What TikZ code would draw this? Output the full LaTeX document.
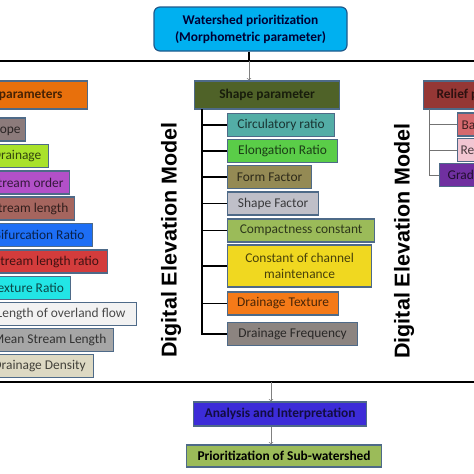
\documentclass[tikz,border=0pt]{standalone}
\usepackage{fontspec}
\setmainfont{Carlito}
\newfontfamily\demfont{Liberation Sans}
\usetikzlibrary{arrows,calc,positioning}

\definecolor{boxline}{HTML}{4E6A88}
\definecolor{wsfill}{HTML}{00B0F0}
\definecolor{wsline}{HTML}{1F5A8C}
\definecolor{shapec}{HTML}{4F6228}
\definecolor{linc}{HTML}{E8700C}
\definecolor{relc}{HTML}{953735}
% linear column
\definecolor{slopec}{HTML}{8C7B7B}
\definecolor{drainc}{HTML}{A9E22B}
\definecolor{sorderc}{HTML}{B250C8}
\definecolor{slenc}{HTML}{A5655E}
\definecolor{bifc}{HTML}{1D6EF5}
\definecolor{slratc}{HTML}{D33C3C}
\definecolor{texratc}{HTML}{22E5E5}
\definecolor{lofc}{HTML}{F2F2F2}
\definecolor{mslc}{HTML}{A6A6A6}
\definecolor{ddc}{HTML}{DDD9C3}
% shape column
\definecolor{circc}{HTML}{53ADA6}
\definecolor{elongc}{HTML}{5ACD48}
\definecolor{formc}{HTML}{948A54}
\definecolor{sfacc}{HTML}{BFBFC8}
\definecolor{compc}{HTML}{9BBB59}
\definecolor{chanc}{HTML}{F0D820}
\definecolor{dtexc}{HTML}{F57A18}
\definecolor{dfreqc}{HTML}{8C8480}
% relief column
\definecolor{basinc}{HTML}{D5696E}
\definecolor{rratc}{HTML}{F2C6D2}
\definecolor{gradc}{HTML}{7030A0}
% bottom
\definecolor{anac}{HTML}{3C2CD8}
\definecolor{prioc}{HTML}{9BBB59}

\begin{document}
\begin{tikzpicture}[x=1pt,y=-1pt,>=to,
  box/.style={draw=boxline,line width=1.2pt,fill=#1,text=#1!30!black,
    minimum height=23pt,inner sep=2pt,anchor=west,
    font=\fontsize{13.4}{16}\selectfont},
  head/.style={box=#1,font=\fontsize{13.4}{16}\selectfont\bfseries},
  frame/.style={line width=2pt,black},
  conn/.style={line width=1.5pt,black},
  rconn/.style={line width=1pt,black!55},
  arr/.style={->,line width=0.7pt,black!50},
  dem/.style={rotate=90,inner sep=0pt,
    font=\demfont\bfseries\fontsize{21.5}{24}\selectfont}]

  \useasboundingbox (0,0) rectangle (474,474);
  \fill[white] (0,0) rectangle (474,474);
  \clip (0,0) rectangle (474,474);

  % top
  \node[draw=wsline,line width=1.2pt,fill=wsfill,rounded corners=6pt,
        minimum width=193pt,minimum height=44pt,align=center,text=black!80!blue,
        font=\fontsize{13.4}{17}\selectfont\bfseries] (ws) at (250.5,29)
        {Watershed prioritization\\(Morphometric parameter)};
  \coordinate (tl) at (0,61);
  \coordinate (tr) at (474,61);
  \coordinate (bl) at (0,382);
  \coordinate (br) at (474,382);
  \draw[frame] (tl) -- (tr);
  \draw[frame] (bl) -- (br);

  % linear parameters
  \node[head=linc,minimum width=151pt,minimum height=28pt] (lin) at (-64,95) {Linear parameters};
  \node[box=slopec,minimum width=40pt]   (slope)  at (-15,129.5) {Slope};
  \node[box=drainc,minimum width=63pt]   (drain)  at (-15,156)   {Drainage};
  \node[box=sorderc,minimum width=84pt]  (sorder) at (-15,182.5) {Stream order};
  \node[box=slenc,minimum width=89pt]    (slen)   at (-15,208.5) {Stream length};
  \node[box=bifc,minimum width=107pt]    (bif)    at (-15,235)   {Bifurcation Ratio};
  \node[box=slratc,minimum width=122pt]  (slrat)  at (-15,261.5) {Stream length ratio};
  \node[box=texratc,minimum width=85pt]  (texrat) at (-15,288)   {Texture Ratio};
  \node[box=lofc,minimum width=151pt]    (lof)    at (-15,314)   {Length of overland flow};
  \node[box=mslc,minimum width=128pt]    (msl)    at (-15,340)   {Mean Stream Length};
  \node[box=ddc,minimum width=108pt]     (dd)     at (-15,366)   {Drainage Density};

  % shape parameters
  \node[head=shapec,minimum width=145pt,minimum height=28pt] (shape) at (194,95) {Shape parameter};
  \node[box=circc,minimum width=107pt]  (circ)  at (227,125)   {Circulatory ratio};
  \node[box=elongc,minimum width=110pt] (elong) at (227,151)   {Elongation Ratio};
  \node[box=formc,minimum width=84pt]   (form)  at (227,177)   {Form Factor};
  \node[box=sfacc,minimum width=91pt]   (sfac)  at (227,203.5) {Shape Factor};
  \node[box=compc,minimum width=147pt]  (comp)  at (227,230.5) {Compactness constant};
  \node[box=chanc,minimum width=144pt,minimum height=42pt,align=center]
        (chan) at (227,266) {Constant of channel\\maintenance};
  \node[box=dtexc,minimum width=111pt]  (dtex)  at (227,303.5) {Drainage Texture};
  \node[box=dfreqc,minimum width=130pt] (dfreq) at (227,334)   {Drainage Frequency};

  % relief parameters
  \node[head=relc,minimum height=28pt,inner xsep=13pt] (rel) at (423,95) {Relief parameters};
  \node[box=basinc,inner xsep=4pt]  (basin) at (457,124.5) {Basin relief};
  \node[box=rratc,inner xsep=3pt]   (rrat)  at (457,150)   {Relief ratio};
  \node[box=gradc,inner xsep=8pt]   (grad)  at (439,175)   {Gradient ratio};

  % DEM labels
  \node[dem] (deml) at (171,240) {Digital Elevation Model};
  \node[dem] (demr) at (404,241) {Digital Elevation Model};

  % connectors
  \coordinate (topin) at (249,61);
  \draw[frame] (ws.south -| topin) -- (topin);
  \draw[arr] (topin) -- (topin |- shape.north);

  \coordinate (spine) at (202,109);
  \draw[conn] (spine) |- (dfreq.west);
  \foreach \n in {circ,elong,form,sfac,comp,chan,dtex}
    \draw[conn] (spine |- \n.west) -- (\n.west);

  \coordinate (rspine) at (429,109);
  \draw[rconn] (rspine) |- (grad.west);
  \foreach \n in {basin,rrat}
    \draw[rconn] (rspine |- \n.west) -- (\n.west);

  % bottom
  \node[head=anac,minimum width=173pt,minimum height=24pt] (ana) at (193,414)
        {Analysis and Interpretation};
  \node[head=prioc,text=black,minimum width=195pt,minimum height=22pt] (prio) at (186,456)
        {Prioritization of Sub-watershed};
  \coordinate (out) at (271,382);
  \draw[arr] (out) -- (out |- ana.north);
  \draw[arr] (ana.south -| out) -- (out |- prio.north);

\end{tikzpicture}
\end{document}
